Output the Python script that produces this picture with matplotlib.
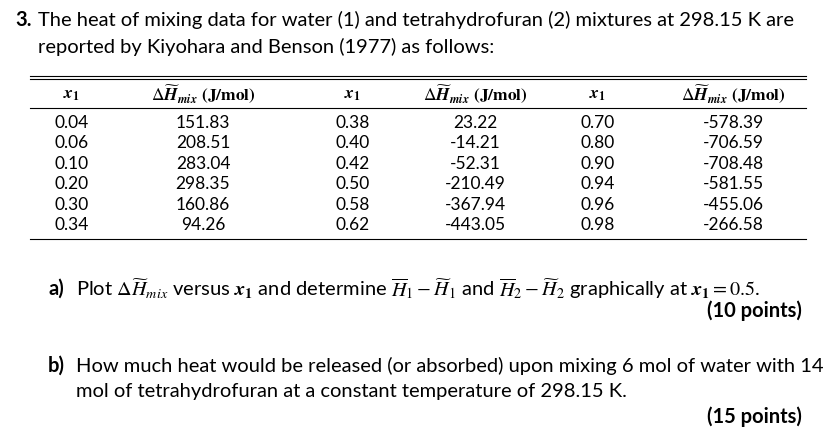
import matplotlib
matplotlib.use("Agg")
import matplotlib.pyplot as plt
from matplotlib.lines import Line2D

plt.rcParams['mathtext.fontset'] = 'stix'
plt.rcParams['font.family'] = ['Lato', 'DejaVu Sans']

x1_a = ["0.04", "0.06", "0.10", "0.20", "0.30", "0.34"]
dh_a = ["151.83", "208.51", "283.04", "298.35", "160.86", "94.26"]
x1_b = ["0.38", "0.40", "0.42", "0.50", "0.58", "0.62"]
dh_b = ["23.22", "-14.21", "-52.31", "-210.49", "-367.94", "-443.05"]
x1_c = ["0.70", "0.80", "0.90", "0.94", "0.96", "0.98"]
dh_c = ["-578.39", "-706.59", "-708.48", "-581.55", "-455.06", "-266.58"]

W, H = 830, 448
fig = plt.figure(figsize=(W/100, H/100), dpi=100)
fig.patch.set_facecolor('white')

def T(px, py, s, **kw):
    kw.setdefault('fontsize', 14.5)
    kw.setdefault('va', 'center')
    fig.text(px/W, 1-py/H, s, **kw)

def hline(x0, x1, py, lw=1.0):
    fig.add_artist(Line2D([x0/W, x1/W], [1-py/H, 1-py/H], color='black', lw=lw))

T(15, 20, "3.", fontweight='bold')
T(38, 20, "The heat of mixing data for water (1) and tetrahydrofuran (2) mixtures at 298.15 K are")
T(38, 47, "reported by Kiyohara and Benson (1977) as follows:")

hline(30, 806, 76, 0.8)
hline(30, 806, 79, 0.8)
hline(30, 806, 108, 0.8)
hline(30, 806, 239, 0.8)

cols = [72, 203, 353, 475, 598, 733]
hx = r"$\mathbfit{x}_{\mathbf{1}}$"
hh = r"$\Delta\widetilde{\mathbfit{H}}_{\mathbfit{mix}}$ $\mathbf{(J/mol)}$"
for i, c in enumerate(cols):
    T(c, 95, hx if i % 2 == 0 else hh, ha='center', fontsize=12.5)
rows_y = [123, 143, 164, 184, 205, 225]
for colx, vals in zip(cols, [x1_a, dh_a, x1_b, dh_b, x1_c, dh_c]):
    for y, v in zip(rows_y, vals):
        T(colx, y, v, ha='center', fontsize=12.5)

T(48, 289, "a)", fontweight='bold')
T(76, 289, r"Plot $\Delta\widetilde{H}_{mix}$ versus $\mathbfit{x}_{\mathbf{1}}$ and determine "
           r"$\overline{H}_1-\widetilde{H}_1$ and $\overline{H}_2-\widetilde{H}_2$ graphically at $\mathbfit{x}_{\mathbf{1}}=0.5$.")
T(802, 311, "(10 points)", ha='right', fontweight='bold')
T(48, 366, "b)", fontweight='bold')
T(76, 366, "How much heat would be released (or absorbed) upon mixing 6 mol of water with 14")
T(76, 391, "mol of tetrahydrofuran at a constant temperature of 298.15 K.")
T(802, 417, "(15 points)", ha='right', fontweight='bold')

fig.savefig("out.png", dpi=100)
